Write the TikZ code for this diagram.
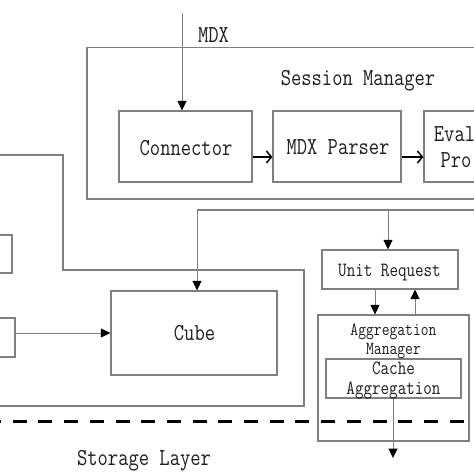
\documentclass[tikz,border=0pt]{standalone}
\usepackage{fontspec}
\usepackage{graphicx}
\usetikzlibrary{arrows.meta}
\definecolor{ln}{HTML}{808080}
\definecolor{tx}{HTML}{1E1E1E}
\newcommand\tallt[1]{\scalebox{1}[1.22]{#1}}
\tikzset{
  box/.style={draw=ln, line width=1.2pt, inner sep=0pt, fill=white},
  lbl/.style={anchor=base, inner sep=0pt, text=tx, font=\ttfamily\fontsize{20}{24}\selectfont},
  slbl/.style={lbl, font=\ttfamily\fontsize{16.6}{20}\selectfont},
  xlbl/.style={lbl, font=\ttfamily\fontsize{15.2}{18}\selectfont},
  arr/.style={draw=ln, line width=1pt, -{Triangle[length=9.5pt,width=9pt,color=black]}},
  oarr/.style={draw=black, line width=1.5pt, -{Straight Barb[length=5pt,width=12pt]}},
  frame/.style={draw=ln, line width=1.2pt},
  storage/.style={draw=black, line width=3pt, dash pattern=on 14pt off 11.7pt},
}
\begin{document}
\begin{tikzpicture}[x=1pt,y=-1pt]
\useasboundingbox (0,0) rectangle (474,474);
\clip (0,0) rectangle (474,474);
\fill[white] (0,0) rectangle (474,474);

% containers
\node[box, fill=none, minimum width=463pt, minimum height=151.5pt] (sess) at (318.5,123.25) {};
\draw[frame] (-5,155) -- (63,155) -- (63,270) -- (304,270) -- (304,406) -- (-5,406);

% boxes
\node[box, minimum width=133pt, minimum height=71pt] (conn) at (185.5,146.5) {};
\node[box, minimum width=128pt, minimum height=71pt] (pars) at (337,146.5) {};
\node[box, minimum width=128pt, minimum height=71pt] (eval) at (488,146.5) {};
\node[box, minimum width=42pt, minimum height=38pt] (boxa) at (-9,254) {};
\node[box, minimum width=45pt, minimum height=39pt] (boxb) at (-7.5,337.5) {};
\node[box, minimum width=166pt, minimum height=84pt] (cube) at (194,333) {};
\node[box, minimum width=136pt, minimum height=39pt] (unit) at (390,269.5) {};
\node[box, fill=none, minimum width=151pt, minimum height=126pt] (aggm) at (393.5,378) {};
\node[box, minimum width=135pt, minimum height=39pt] (cache) at (393.5,378.5) {};

% storage layer line
\coordinate (dl) at (-13,421);
\coordinate (dr) at (480,421);
\draw[storage] (dl) -- (dr);

% coordinates for connectors
\coordinate (mdxin) at (182,13);
\coordinate (hrow) at (0,157);
\coordinate (busR) at (480,210);
\coordinate (busL) at (197,210);
\coordinate (busU) at (388,210);
\coordinate (dx) at (375,0);
\coordinate (ux) at (415,0);
\coordinate (out) at (393,458);

% connectors
\draw[arr] (mdxin) -- (mdxin |- conn.north);
\draw[oarr] (conn.east |- hrow) -- (pars.west |- hrow);
\draw[oarr] (pars.east |- hrow) -- (eval.west |- hrow);
\draw[frame] (busR) -- (busL);
\draw[arr] (busL) -- (busL |- cube.north);
\draw[arr] (busU) -- (busU |- unit.north);
\draw[arr] (boxb.east |- cube.west) -- (cube.west);
\draw[arr] (unit.south -| dx) -- (aggm.north -| dx);
\draw[arr] (aggm.north -| ux) -- (unit.south -| ux);
\draw[arr] (cache.south -| out) -- (out);

% labels
\node[lbl] (tmdx) at (213.5,42) {\tallt{MDX}};
\node[lbl] (tsess) at (358,85) {\tallt{Session Manager}};
\node[lbl] (tconn) at (186,155) {\tallt{Connector}};
\node[lbl] (tpars) at (338,154) {\tallt{MDX Parser}};
\node[lbl] (teva) at (454.5,141.7) {\tallt{Eval}};
\node[lbl] (tpro) at (456,167) {\tallt{Pro}};
\node[lbl] (tcube) at (194.5,340) {\tallt{Cube}};
\node[slbl] (tunit) at (389.5,276) {\tallt{Unit Request}};
\node[xlbl] (taggA) at (393.5,335.7) {\tallt{Aggregation}};
\node[xlbl] (taggB) at (393.5,354) {\tallt{Manager}};
\node[slbl] (tcacheA) at (393.5,374) {\tallt{Cache}};
\node[slbl] (tcacheB) at (393.5,394.7) {\tallt{Aggregation}};
\node[lbl] (tstor) at (144,465.7) {\tallt{Storage Layer}};
\end{tikzpicture}
\end{document}
